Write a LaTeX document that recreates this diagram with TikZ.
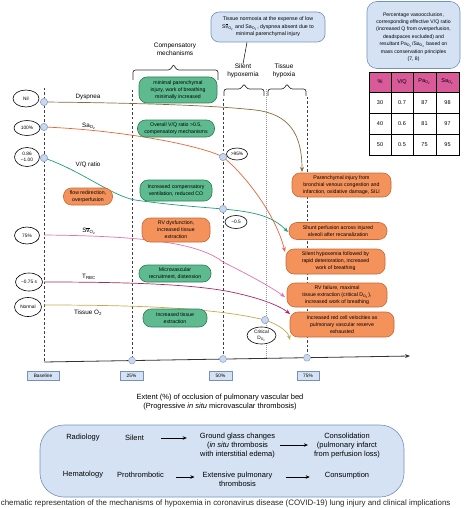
\documentclass[tikz,border=0pt]{standalone}
\usepackage{fontspec}
\setmainfont{Liberation Sans}
\usetikzlibrary{shapes.geometric,arrows.meta,calc}
\definecolor{gfill}{HTML}{5DBB8F}
\definecolor{gline}{HTML}{2E7D57}
\definecolor{ofill}{HTML}{F4925C}
\definecolor{oline}{HTML}{C96A34}
\definecolor{bfill}{HTML}{D5E2F3}
\definecolor{bline}{HTML}{7290C0}
\definecolor{dfill}{HTML}{C9D8EE}
\definecolor{dline}{HTML}{8CA2C9}
\definecolor{hfill}{HTML}{D85A98}
\definecolor{cdys}{HTML}{8A6A3C}
\definecolor{csa}{HTML}{E8653A}
\definecolor{cvq}{HTML}{1E9E78}
\definecolor{csv}{HTML}{E271AC}
\definecolor{ctr}{HTML}{A52A5F}
\definecolor{cto}{HTML}{C9A84C}
\newcommand\myfs[2]{\fontsize{#1}{#2}\selectfont}
\newcommand\Otwo{\textsubscript{O\textsubscript{2}}}
\newcommand\SvO{S$\overline{\mbox{v}}$\Otwo}
\begin{document}
\begin{tikzpicture}[x=1pt,y=-1pt,
  gbox/.style={draw=gline, fill=gfill, line width=0.6pt, rounded corners=8pt, align=center, inner sep=1pt, font=\myfs{5.2}{7}},
  obox/.style={draw=oline, fill=ofill, line width=0.6pt, rounded corners=8pt, align=center, inner sep=1pt, font=\myfs{5.2}{7}},
  bluebox/.style={draw=bline, fill=bfill, line width=0.6pt, align=center, inner sep=1pt},
  lell/.style={ellipse, draw=black, fill=white, line width=0.6pt, inner sep=0pt, align=center, font=\myfs{4.8}{5.6}},
  dotc/.style={circle, draw=dline, fill=dfill, line width=0.5pt, minimum size=7pt, inner sep=0pt},
  vdash/.style={draw=black!75, line width=0.7pt, dash pattern=on 2.5pt off 2pt},
  vdot/.style={draw=black!40, line width=0.5pt, dash pattern=on 1pt off 1pt},
  curvelbl/.style={font=\myfs{6.3}{7}, inner sep=0pt},
  conn/.style={line width=0.7pt, -{Stealth[length=5pt,width=4pt]}},
  brk/.style={draw=black!80, line width=0.7pt, rounded corners=2.5pt},
  xbox/.style={draw=bline, fill=bfill, line width=0.4pt, minimum height=9pt, inner sep=0pt, font=\myfs{4.8}{5.5}},
  btxt/.style={font=\myfs{7.5}{9}, align=center, inner sep=0pt},
  barrow/.style={line width=0.7pt, -{Stealth[length=4pt,width=3.5pt]}},
  cell/.style={draw=black, line width=0.6pt, inner sep=0pt, font=\myfs{5.5}{6.5}},
  hcell/.style={cell, fill=hfill},
  toplbl/.style={font=\myfs{6.5}{7.8}, align=center, inner sep=0pt}
]
\useasboundingbox (0,0) rectangle (474,508);

% axis
\coordinate (ax0) at (44,362);
\coordinate (ax1) at (410,356);

% vertical guide lines
\coordinate (v0) at (44,88);
\coordinate (v1) at (132,90);
\coordinate (v2) at (223,99);
\coordinate (v3) at (307,97);
\coordinate (vg) at (266,89);
\coordinate (vgb) at (266,357.6);
\draw[vdot] (vg) -- (vgb);
\draw[vdash] (v0) -- (ax0);
\draw[vdash] (v1) -- (132,360.5);
\draw[vdash] (v2) -- (223,359);
\draw[vdash] (v3) -- (307,357.7);
\draw[line width=0.8pt, draw=black!80, -{Stealth[length=5pt,width=4pt]}] (ax0) -- (ax1);

% braces and their labels
\draw[brk] (133,80) |- (170.5,70) -- (173.5,64) -- (176.5,70) -| (218,80);
\draw[brk] (224,96) |- (241,89) -- (244,83.5) -- (247,89) -| (264,96);
\draw[brk] (268,96) |- (284,89) -- (287,83.5) -- (290,89) -| (306,96);
\node[toplbl] (cml) at (175,49) {Compensatory\\mechanisms};
\node[toplbl] (shl) at (243,71) {Silent\\hypoxemia};
\node[toplbl] (thl) at (284,71) {Tissue\\hypoxia};

% top info box
\node[bluebox, rounded corners=8pt, minimum width=114pt, minimum height=30pt, font=\myfs{5.3}{7.4}] (tb) at (268,27) {Tissue normoxia at the expense of low\\\SvO{} and Sa\Otwo, dyspnea absent due to\\minimal parenchymal injury};
\draw[line width=0.5pt] ([xshift=-21pt]tb.south) -- (shl.north);

% right info box and table
\node[bluebox, rounded corners=10pt, minimum width=93pt, minimum height=67pt] (rb) at (413.5,35) {};
\node[font=\myfs{5.1}{7.4}, align=center, inner sep=0pt, yshift=-2pt] (rbt) at (rb.center) {Percentage vasoocclusion,\\corresponding effective V/Q ratio\\(increased Q from overperfusion,\\deadspaces excluded) and\\resultant Pa\Otwo/Sa\Otwo{} based on\\mass conservation principles\\(7, 8)};

\node[hcell, minimum width=22pt, minimum height=20pt] (h1) at (380,82) {\%};
\node[hcell, minimum width=22pt, minimum height=20pt] (h2) at (402,82) {V/Q};
\node[hcell, minimum width=23pt, minimum height=20pt] (h3) at (424.5,82) {Pa\Otwo};
\node[hcell, minimum width=23pt, minimum height=20pt] (h4) at (447.5,82) {Sa\Otwo};
\node[cell, minimum width=22pt, minimum height=21pt] (r11) at (380,102.5) {30};
\node[cell, minimum width=22pt, minimum height=21pt] (r12) at (402,102.5) {0.7};
\node[cell, minimum width=23pt, minimum height=21pt] (r13) at (424.5,102.5) {87};
\node[cell, minimum width=23pt, minimum height=21pt] (r14) at (447.5,102.5) {98};
\node[cell, minimum width=22pt, minimum height=21pt] (r21) at (380,123.5) {40};
\node[cell, minimum width=22pt, minimum height=21pt] (r22) at (402,123.5) {0.6};
\node[cell, minimum width=23pt, minimum height=21pt] (r23) at (424.5,123.5) {81};
\node[cell, minimum width=23pt, minimum height=21pt] (r24) at (447.5,123.5) {97};
\node[cell, minimum width=22pt, minimum height=21pt] (r31) at (380,144.5) {50};
\node[cell, minimum width=22pt, minimum height=21pt] (r32) at (402,144.5) {0.5};
\node[cell, minimum width=23pt, minimum height=21pt] (r33) at (424.5,144.5) {75};
\node[cell, minimum width=23pt, minimum height=21pt] (r34) at (447.5,144.5) {95};

% dots
\node[dotc] (d1) at (44,102) {};
\node[dotc] (d2) at (44,127) {};
\node[dotc] (d3) at (44,158) {};
\node[dotc] (d4) at (223,157) {};
\node[dotc] (d5) at (223,209) {};
\node[dotc] (d6) at (265,320) {};
\coordinate (s4) at (44,235);
\coordinate (s5) at (44,282);
\coordinate (s6) at (44,305);
\coordinate (a1) at (302,172);
\coordinate (a2) at (285,252);
\coordinate (a3) at (288,232);
\coordinate (a4) at (285,297);
\coordinate (a5) at (290,314);
\coordinate (a6) at (290,340);

% curves
\draw[conn, cdys] (d1.center) .. controls (150,103) and (220,106) .. (255,110) .. controls (290,114) and (302,135) .. (a1);
\draw[conn, csa] (d2.center) .. controls (120,130) and (200,145) .. (d4.center) .. controls (242,172) and (275,212) .. (a2);
\draw[conn, cvq] (d3.center) .. controls (80,170) and (112,196) .. (135,200) .. controls (170,205) and (200,207) .. (d5.center) .. controls (255,212) and (272,216) .. (a3);
\draw[conn, csv] (s4) .. controls (150,236) and (200,244) .. (223,262) .. controls (245,273) and (268,285) .. (a4);
\draw[conn, ctr] (s5) .. controls (140,282) and (205,285) .. (240,294) .. controls (262,299) and (280,306) .. (a5);
\draw[conn, cto] (s6) .. controls (150,305) and (220,309) .. (d6.center) .. controls (280,325) and (288,332) .. (a6);

% redraw dots on top
\foreach \d in {d1,d2,d3,d4,d5,d6} {\node[dotc] at (\d) {};}
\node[dotc] (x1) at (132,360.5) {};
\node[dotc] (x2) at (223,359) {};
\node[dotc] (x3) at (307,357.7) {};

% curve labels
\node[curvelbl] (ldys) at (88,97) {Dyspnea};
\node[curvelbl] (lsa) at (89,126) {Sa\Otwo};
\node[curvelbl] (lvq) at (88,165) {V/Q ratio};
\node[curvelbl] (lsv) at (89,231) {\SvO};
\node[curvelbl] (ltr) at (89,277) {T\textsubscript{RBC}};
\node[curvelbl] (lto) at (88,313) {Tissue O\textsubscript{2}};

% value ellipses
\node[lell, minimum width=26pt, minimum height=17pt] (e1) at (26,98.5) {Nil};
\node[lell, minimum width=26pt, minimum height=15pt] (e2) at (27,128) {100\%};
\node[lell, minimum width=25pt, minimum height=19pt] (e3) at (27,157) {0.86\\--1.00};
\node[lell, minimum width=25pt, minimum height=17pt] (e4) at (27,235.5) {75\%};
\node[lell, minimum width=27pt, minimum height=18pt] (e5) at (29,282) {\textasciitilde0.75 s};
\node[lell, minimum width=27pt, minimum height=19pt] (e6) at (28,307) {Normal};
\node[lell, minimum width=21pt, minimum height=12pt] (e7) at (237,154) {>95\%};
\node[lell, minimum width=22pt, minimum height=13pt] (e8) at (236,222) {\textasciitilde0.5};
\node[lell, minimum width=29pt, minimum height=17pt] (e9) at (261.5,335.5) {Critical\\D\Otwo};

% green boxes
\node[gbox, minimum width=78pt, minimum height=26pt] (g1) at (178,90) {minimal parenchymal\\injury, work of breathing\\minimally increased};
\node[gbox, minimum width=77pt, minimum height=17pt] (g2) at (176,128.5) {Overall V/Q ratio >0.5,\\compensatory mechanisms};
\node[gbox, minimum width=72pt, minimum height=21pt] (g3) at (176,190.5) {Increased compensatory\\ventilation, reduced CO};
\node[gbox, minimum width=72pt, minimum height=17pt] (g4) at (175,273.5) {Microvascular\\recruitment, distension};
\node[gbox, minimum width=64pt, minimum height=18pt] (g5) at (175,318) {Increased tissue\\extraction};

% orange boxes
\node[obox, minimum width=49pt, minimum height=17pt] (o1) at (88,196.5) {flow redirection,\\overperfusion};
\node[obox, minimum width=68pt, minimum height=24pt] (o2) at (176,230) {RV dysfunction,\\increased tissue\\extraction};
\node[obox, minimum width=99pt, minimum height=24pt] (o3) at (341.5,185) {Parenchymal injury from\\bronchial venous congestion and\\infarction, oxidative damage, SILI};
\node[obox, minimum width=98pt, minimum height=17pt] (o4) at (338,231) {Shunt perfusion across injured\\alveoli after recanalization};
\node[obox, minimum width=99pt, minimum height=25pt] (o5) at (335.5,261.5) {Silent hypoxemia followed by\\rapid deterioration, increased\\work of breathing};
\node[obox, minimum width=100pt, minimum height=24pt] (o6) at (337,295) {RV failure, maximal\\tissue extraction (critical D\Otwo),\\increased work of breathing};
\node[obox, minimum width=104pt, minimum height=25pt] (o7) at (342,324.5) {Increased red cell velocities as\\pulmonary vascular reserve\\exhausted};

% axis tick labels
\node[xbox, minimum width=32pt] (tb0) at (43,376) {Baseline};
\node[xbox, minimum width=23pt] (tb1) at (131.5,376) {25\%};
\node[xbox, minimum width=23pt] (tb2) at (220.5,376) {50\%};
\node[xbox, minimum width=22pt] (tb3) at (308,376) {75\%};

% axis title
\node[btxt] (axt) at (220,402.5) {Extent (\%) of occlusion of pulmonary vascular bed\\(Progressive \textit{in situ} microvascular thrombosis)};

% bottom box
\node[bluebox, rounded corners=24pt, minimum width=364pt, minimum height=72pt] (bb) at (222,461) {};
\node[btxt] (rad) at (83,438) {Radiology};
\node[btxt] (sil) at (134.5,438) {Silent};
\node[btxt] (ggc) at (237.5,446) {Ground glass changes\\(\textit{in situ} thrombosis\\with interstitial edema)};
\node[btxt] (con) at (347,446) {Consolidation\\(pulmonary infarct\\from perfusion loss)};
\node[btxt] (hem) at (83,475) {Hematology};
\node[btxt] (pro) at (140.5,475) {Prothrombotic};
\node[btxt] (ext) at (237.5,479.5) {Extensive pulmonary\\thrombosis};
\node[btxt] (cns) at (347,476) {Consumption};
\draw[barrow, shorten <=17pt, shorten >=13pt] (sil.east) -- (sil.east -| ggc.west);
\draw[barrow, shorten <=5pt, shorten >=6pt] ([yshift=1pt]ggc.east) -- ([yshift=1pt]ggc.east -| con.west);
\draw[barrow, shorten <=12pt, shorten >=8pt] ([yshift=-2pt]pro.east) -- ([yshift=-2pt]pro.east -| ext.west);
\draw[barrow, shorten <=13pt, shorten >=15pt] ([yshift=-1pt]cns.west -| ext.east) -- ([yshift=-1pt]cns.west);

% caption, as far as the reference shows it
\node[anchor=west, inner sep=0pt, font=\myfs{7.9}{9}, text=black!85] (cap) at (0.6,503) {chematic representation of the mechanisms of hypoxemia in coronavirus disease (COVID-19) lung injury and clinical implications};
\end{tikzpicture}
\end{document}
